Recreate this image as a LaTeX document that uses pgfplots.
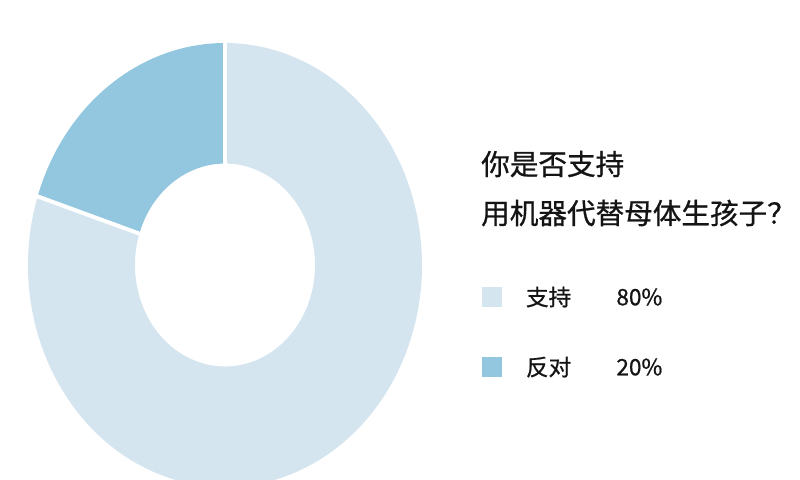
\documentclass[border=0pt]{standalone}
\usepackage{pgfplots}
\usepackage{pgfplotstable}
\pgfplotsset{compat=1.18}
\usepackage{fontspec}
\setmainfont{Noto Sans CJK SC}
\newfontfamily\med{Noto Sans CJK SC}[FakeBold=0.8]

\definecolor{support}{RGB}{213,229,240}
\definecolor{against}{RGB}{147,198,223}
\definecolor{txt}{RGB}{20,20,20}

% share of answers, in percent
\pgfplotstableread{
share
80
20
}\votes

\begin{document}
\begin{tikzpicture}
  \pgfplotstablegetelem{0}{share}\of\votes \let\shareYes\pgfplotsretval
  \pgfplotstablegetelem{1}{share}\of\votes \let\shareNo\pgfplotsretval
  % slices run counterclockwise from 12 o'clock
  \pgfmathsetmacro\aStart{90}
  \pgfmathsetmacro\aMid{90+3.6*\shareNo}
  \pgfmathsetmacro\aEnd{\aMid+3.6*\shareYes}
  \def\rin{0.457}
  \begin{axis}[
      name=ax,
      scale only axis,
      width=400pt, height=239.5pt,
      xmin=-1.1421, xmax=2.9188,
      ymin=-0.9640, ymax=1.1937,
      hide axis,
      clip=false,
    ]
    \fill[against]
      (axis cs:{cos(\aStart)},{sin(\aStart)})
      arc[start angle=\aStart, end angle=\aMid, radius=1]
      -- (axis cs:{\rin*cos(\aMid)},{\rin*sin(\aMid)})
      arc[start angle=\aMid, end angle=\aStart, radius=\rin]
      -- cycle;
    \fill[support]
      (axis cs:{cos(\aMid)},{sin(\aMid)})
      arc[start angle=\aMid, end angle=\aEnd, radius=1]
      -- (axis cs:{\rin*cos(\aEnd)},{\rin*sin(\aEnd)})
      arc[start angle=\aEnd, end angle=\aMid, radius=\rin]
      -- cycle;
    \draw[white, line width=2pt]
      (axis cs:{\rin*cos(\aStart)},{\rin*sin(\aStart)})
      -- (axis cs:{1.01*cos(\aStart)},{1.01*sin(\aStart)});
    \draw[white, line width=2pt]
      (axis cs:{\rin*cos(\aMid)},{\rin*sin(\aMid)})
      -- (axis cs:{1.01*cos(\aMid)},{1.01*sin(\aMid)});

    % title
    \node[anchor=west, inner sep=0pt, text=txt,
          font=\med\fontsize{14.3}{17}\selectfont]
      at (rel axis cs:0.601,0.6576) {你是否支持};
    \node[anchor=west, inner sep=0pt, text=txt,
          font=\med\fontsize{14.3}{17}\selectfont]
      at (rel axis cs:0.601,0.5553) {用机器代替母体生孩子？};

    % legend
    \fill[support] (rel axis cs:0.6025,0.3591) rectangle (rel axis cs:0.6275,0.4008);
    \fill[against] (rel axis cs:0.6025,0.2129) rectangle (rel axis cs:0.6275,0.2547);
    \node[anchor=west, inner sep=0pt, text=txt, font=\med\fontsize{11.3}{13}\selectfont]
      at (rel axis cs:0.657,0.380) {支持};
    \node[anchor=west, inner sep=0pt, text=txt, font=\med\fontsize{11.3}{13}\selectfont]
      at (rel axis cs:0.770,0.380) {\shareYes\%};
    \node[anchor=west, inner sep=0pt, text=txt, font=\med\fontsize{11.3}{13}\selectfont]
      at (rel axis cs:0.657,0.2338) {反对};
    \node[anchor=west, inner sep=0pt, text=txt, font=\med\fontsize{11.3}{13}\selectfont]
      at (rel axis cs:0.770,0.2338) {\shareNo\%};
  \end{axis}
  \pgfresetboundingbox
  \path[use as bounding box] (ax.south west) rectangle (ax.north east);
\end{tikzpicture}
\end{document}
